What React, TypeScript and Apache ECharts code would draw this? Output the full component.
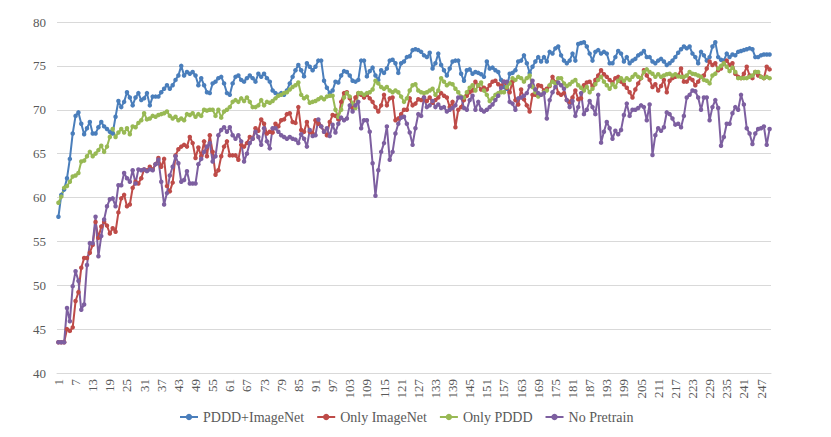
import React, { useEffect, useRef } from "react";
import * as echarts from "echarts";

const categories: string[] = Array.from({ length: 250 }, (_, i) => String(i + 1));
const yTicks = [40, 45, 50, 55, 60, 65, 70, 75, 80];
const seriesNames = ["PDDD+ImageNet", "Only ImageNet", "Only PDDD", "No Pretrain"];

const pdddImageNet: number[] = [
  57.8, 60.3, 60.9, 62.2, 64.4, 67.3, 69.3, 69.7, 68.4, 67.2,
  67.9, 68.6, 67.3, 67.3, 68.0, 68.6, 68.1, 67.8, 67.5, 67.3,
  69.2, 71.0, 70.3, 70.9, 72.0, 71.4, 70.5, 71.4, 71.9, 71.1,
  71.3, 71.9, 70.5, 71.5, 71.5, 71.5, 72.0, 72.4, 72.8,
  72.4, 72.8, 73.4, 73.9, 75.0, 73.9, 74.3, 74.1, 74.3, 73.9,
  72.8, 73.6, 72.8, 72.0, 71.9, 73.0, 73.2, 73.6, 73.75, 73.0,
  71.9, 71.7, 73.0, 73.75, 73.9, 73.4, 73.2, 73.6, 73.9, 73.6,
  73.2, 74.1, 73.75, 74.1, 73.6, 73.2, 72.2, 71.9, 71.7, 71.9,
  71.7, 72.2, 73.0, 73.75,
  74.5, 75.1, 74.5, 73.8, 75.3, 74.9, 74.5, 74.9, 75.6, 75.6,
  73.3, 72.5, 71.9, 72.2, 73.2, 73.1, 73.9, 74.4, 74.3, 73.9,
  73.3, 73.2, 73.4, 75.6, 75.6, 73.8, 74.4, 74.8, 73.9, 73.4,
  74.5, 74.2, 74.7, 75.6, 75.7, 75.3, 74.2, 75.3, 75.5, 76.0,
  76.1, 76.8,
  76.9, 76.8, 76.6, 76.2, 76.0, 76.5, 74.7, 75.3, 76.4, 75.1,
  74.5, 73.9, 74.7, 75.5, 75.6, 75.6, 74.1, 73.3, 74.5, 74.6,
  74.1, 74.3, 74.2, 74.05, 73.75, 75.5, 74.7, 74.8, 74.5, 74.3,
  73.4, 72.6, 72.4, 74.1, 74.2, 74.5, 75.5, 75.6, 76.2, 75.3,
  74.2, 74.9, 75.5, 76.0, 75.5,
  76.0, 75.5, 76.6, 76.4, 77.0, 77.2, 76.2, 75.6, 75.3, 75.6,
  76.4, 75.6, 77.5, 77.6, 77.7, 77.2, 76.4, 75.6, 76.6, 76.8,
  76.4, 76.6, 76.4, 75.3, 75.3, 76.0, 76.7, 76.4, 75.5, 76.0,
  75.3, 75.6, 75.8, 76.2, 76.4, 76.7, 76.0, 76.0, 75.5, 75.3,
  75.6, 75.8, 75.5, 75.1,
  75.3, 75.6, 76.0, 76.5, 76.9, 77.2, 77.0, 77.2, 76.4, 76.0,
  75.3, 76.6, 76.2, 75.6, 76.0, 77.2, 77.7, 76.0, 75.7, 75.6,
  76.4, 76.0, 76.3, 76.2, 76.6, 76.7, 76.8, 76.9, 77.0, 76.9,
  76.0, 76.0, 76.2, 76.3, 76.3, 76.3,
];

const onlyImageNet: number[] = [
  43.5, 43.5, 43.5, 45.0, 44.8, 45.2, 48.2, 49.2, 52.0, 53.1,
  53.1, 53.7, 54.6, 57.2, 55.4, 56.7, 57.2, 56.8, 55.9, 56.5,
  56.1, 58.3, 59.9, 60.3, 59.0, 59.2, 61.1, 61.8, 61.6, 62.2,
  63.2, 63.1, 63.5, 63.2, 63.8, 64.5, 63.5, 64.4, 61.3, 60.7,
  61.7, 64.8, 65.5, 65.8, 66.0, 65.8, 66.9, 66.2, 64.5, 65.7,
  64.7, 66.4, 64.7, 67.1, 65.2, 62.6, 63.1, 64.7, 65.8, 66.4,
  64.8, 64.8, 64.8, 64.3, 66.0, 65.8, 66.2, 66.9, 66.7, 67.9,
  67.6, 68.9, 68.4, 67.3, 67.5, 67.4, 68.4, 68.1, 68.8, 68.9,
  69.5, 69.6, 68.6,
  68.5, 70.3, 67.7, 67.5, 68.6, 67.5, 67.3, 68.8, 68.4, 68.1,
  67.5, 67.1, 68.6, 69.4, 69.3, 68.9, 70.9, 71.9, 72.0, 71.3,
  70.3, 71.4, 71.9, 71.7, 71.4, 71.7, 71.3, 70.9, 70.3, 69.8,
  70.5, 71.7, 70.5, 71.3, 71.4, 68.8, 69.0, 69.5, 70.0, 70.0,
  71.3, 70.5, 70.7, 71.2,
  71.1, 71.4, 71.0, 71.4, 70.8, 71.1, 71.4, 71.9, 71.6, 71.4,
  70.3, 70.9, 68.0, 70.0, 70.3, 71.1, 71.6, 72.0, 72.2, 73.2,
  72.8, 72.3, 72.5, 72.3, 72.8, 73.2, 73.3, 72.9, 72.7, 73.2,
  72.5, 72.0, 73.2, 71.1, 70.6, 72.3, 71.2, 70.5, 69.8, 71.7,
  71.7, 72.8, 72.7,
  72.2, 72.4, 72.7, 73.75, 73.1, 71.9, 71.7, 71.9, 71.1, 70.9,
  71.4, 72.2, 71.2, 71.3, 72.8, 73.1, 73.2, 72.7, 73.4, 73.9,
  74.5, 74.05, 73.75, 73.4, 73.1, 73.6, 73.75, 73.2, 72.9, 72.5,
  72.0, 71.4, 72.3, 73.0, 73.6, 74.5, 73.9, 73.4, 72.6, 72.9,
  72.2, 72.7, 73.4, 72.0,
  73.3, 73.6, 73.75, 73.9, 74.7, 73.2, 73.2, 73.6, 73.4, 72.8,
  73.2, 73.75, 73.9, 74.7, 75.5, 75.1, 75.3, 74.5, 74.7, 75.3,
  75.6, 75.1, 75.3, 74.1, 73.75, 73.6, 74.1, 74.9, 73.9, 73.6,
  74.3, 73.9, 73.75, 73.6, 74.9, 74.6,
];

const onlyPDDD: number[] = [
  59.4, 60.1, 61.1, 61.3, 61.8, 62.4, 62.5, 62.8, 64.1, 64.2,
  64.7, 65.2, 64.7, 65.0, 65.4, 65.9, 65.2, 65.8, 66.9, 67.8,
  66.9, 67.4, 67.8, 67.4, 67.9, 67.2, 68.1, 68.0, 68.5, 68.8,
  69.6, 68.9, 69.0, 69.3, 69.2, 69.4, 69.5, 69.6, 69.8,
  69.3, 69.0, 69.2, 68.8, 69.0, 68.8, 69.5, 69.4, 69.6, 69.2,
  69.5, 69.3, 70.0, 69.9, 70.0, 70.0, 69.3, 70.0, 69.1, 69.8,
  70.0, 70.3, 70.9, 71.1, 70.9, 71.3, 71.0, 71.4, 70.9, 70.3,
  70.3, 70.5, 71.1, 70.5, 70.9, 70.8, 71.0, 71.3, 71.6, 71.7,
  71.9, 72.0, 72.3, 72.6,
  72.8, 73.1, 71.7, 71.3, 71.5, 70.8, 70.9, 71.0, 71.2, 71.4,
  71.2, 71.5, 71.6, 71.6, 70.0, 69.2, 70.0, 71.4, 71.9, 71.5,
  70.7, 70.2, 71.9, 71.9, 71.7, 71.9, 72.0, 72.3, 73.3, 73.0,
  72.6, 72.4, 72.6, 72.2, 72.0, 72.2, 72.0, 71.5, 70.9, 71.3,
  72.2, 72.8, 72.9, 72.2,
  72.0, 71.9, 72.0, 72.2, 72.4, 71.7, 72.2, 73.6, 73.2, 72.8,
  73.0, 72.9, 72.4, 72.0, 71.5, 71.4, 72.0, 72.5, 72.8, 72.2,
  72.8, 73.1, 72.2, 71.7, 71.0, 71.3, 71.7, 71.9, 72.0, 72.0,
  72.6, 73.0, 73.6, 73.4, 73.75, 73.6, 73.2, 73.6, 73.9, 72.6,
  72.0, 71.5, 71.7,
  72.0, 72.2, 72.8, 73.2, 73.0, 73.6, 73.6, 73.0, 72.7, 72.9,
  73.2, 73.4, 72.8, 72.5, 72.2, 72.6, 72.0, 72.4, 72.9, 73.4,
  73.75, 73.2, 72.8, 72.4, 72.9, 72.6, 73.3, 73.6, 73.3, 73.6,
  73.4, 73.75, 74.05, 73.75, 73.6, 74.3, 74.6, 74.3, 74.1, 73.75,
  74.05, 73.75, 73.9, 74.05,
  74.1, 73.9, 74.05, 73.8, 73.75, 73.75, 73.9, 74.3, 74.1, 74.05,
  73.9, 73.75, 73.4, 73.3, 73.0, 73.9, 74.1, 74.7, 75.0, 75.3,
  74.9, 74.4, 74.8, 74.3, 73.6, 73.6, 73.6, 73.6, 73.75, 73.9,
  74.3, 74.3, 73.75, 73.6, 73.75, 73.6,
];

const noPretrain: number[] = [
  43.5, 43.5, 43.5, 47.4, 45.9, 49.9, 51.6, 50.5, 47.2, 47.8,
  52.3, 54.8, 54.8, 57.8, 53.3, 55.6, 57.5, 59.0, 59.8, 59.9,
  59.0, 61.4, 61.4, 62.8, 62.2, 61.8, 63.1, 61.6, 63.2, 63.1,
  63.2, 63.0, 63.2, 63.1, 63.8, 64.3, 61.8, 59.2, 60.5, 62.5,
  63.5, 64.7, 63.9, 61.8, 62.0, 63.0, 61.6, 61.6, 61.6, 63.8,
  64.4, 65.2, 65.8, 66.2, 64.1, 64.7, 67.1, 67.7, 68.0, 67.5,
  68.0, 67.1, 66.7, 67.1, 66.4, 64.1, 65.0, 66.2, 66.7, 67.5,
  66.9, 66.0, 67.9, 66.4, 65.6, 67.9, 67.9, 67.5, 67.1, 66.9,
  66.7, 66.9, 66.7,
  66.6, 66.2, 67.2, 66.7, 65.8, 67.7, 67.0, 67.1, 68.9, 68.1,
  67.5, 67.9, 67.0, 68.3, 67.4, 68.4, 69.1, 68.8, 69.0, 70.5,
  69.8, 70.5, 70.9, 67.9, 68.8, 68.8, 67.5, 63.9, 60.2, 63.1,
  65.2, 66.2, 68.1, 64.3, 65.2, 67.3, 68.4, 69.1, 69.2, 68.4,
  67.4, 66.0, 67.9, 69.5,
  69.3, 71.4, 70.3, 70.5, 71.0, 70.3, 70.6, 70.2, 70.3, 69.8,
  70.0, 70.2, 70.5, 71.4, 71.4, 70.2, 70.0, 71.1, 71.6, 70.0,
  70.9, 70.0, 69.8, 70.0, 70.3, 70.6, 71.1, 71.6, 72.5, 73.2,
  73.2, 70.9, 70.7, 70.0, 71.3, 71.4, 71.6, 71.9, 72.7, 73.3,
  72.3, 71.9, 71.7,
  71.9, 69.0, 71.1, 72.0, 72.6, 73.1, 72.8, 72.4, 71.1, 70.3,
  71.0, 69.3, 70.3, 71.9, 69.5, 70.0, 71.0, 70.3, 69.5, 71.7,
  66.25, 67.5, 68.6, 67.9, 66.7, 67.6, 67.2, 67.7, 69.4, 70.7,
  69.3, 70.0, 70.0, 70.2, 70.5, 70.3, 68.8, 70.6, 64.85, 67.1,
  67.9, 67.6, 68.0, 69.7,
  69.5, 69.0, 68.3, 68.4, 68.0, 69.3, 71.4, 71.7, 72.2, 72.1,
  71.4, 70.0, 71.4, 71.4, 68.8, 70.3, 71.1, 70.2, 65.9, 66.9,
  68.4, 68.4, 69.6, 70.3, 70.0, 71.7, 70.6, 67.9, 67.3, 66.1,
  67.3, 67.8, 67.9, 68.1, 66.0, 67.8,
];

const colors = ["#4A7EBB", "#BE4B48", "#98B954", "#7D5FA0"];
const FONT = "Liberation Serif";

export default function App() {
  const ref = useRef<HTMLDivElement>(null);
  useEffect(() => {
    if (!ref.current) return;
    const chart = echarts.init(ref.current, undefined, { renderer: "svg" });
    const datasets = [pdddImageNet, onlyImageNet, onlyPDDD, noPretrain];
    chart.setOption({
      animation: false,
      color: colors,
      grid: { left: 57, right: 60, top: 22, bottom: 64 },
      legend: {
        top: 405,
        left: 174,
        itemWidth: 18,
        itemHeight: 8,
        itemGap: 12,
        data: seriesNames,
        textStyle: { color: "#595959", fontSize: 14, fontFamily: FONT },
      },
      xAxis: {
        type: "category",
        data: categories,
        boundaryGap: true,
        axisLine: { lineStyle: { color: "#d9d9d9", width: 1 } },
        axisTick: { show: false },
        axisLabel: {
          interval: 5,
          rotate: 90,
          color: "#595959",
          fontSize: 13,
          fontFamily: FONT,
          margin: 6,
        },
        splitLine: { show: false },
      },
      yAxis: {
        type: "value",
        min: yTicks[0],
        max: yTicks[yTicks.length - 1],
        interval: 5,
        axisLine: { show: false },
        axisTick: { show: false },
        axisLabel: { color: "#595959", fontSize: 13, fontFamily: FONT, margin: 11 },
        splitLine: { lineStyle: { color: "#d9d9d9", width: 1 } },
      },
      series: datasets.map((d, k) => ({
        name: seriesNames[k],
        type: "line",
        data: d,
        symbol: "circle",
        symbolSize: 4.5,
        showAllSymbol: true,
        lineStyle: { width: 2, color: colors[k] },
        itemStyle: { color: colors[k] },
        emphasis: { disabled: true },
      })),
    });
    return () => chart.dispose();
  }, []);
  return (
    <div
      ref={ref}
      style={{ position: "fixed", left: 0, top: 0, width: 831, height: 437, background: "#fff" }}
    />
  );
}
